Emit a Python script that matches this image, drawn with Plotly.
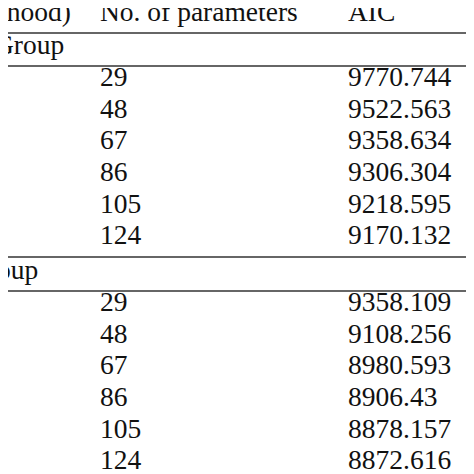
import plotly.graph_objects as go

headers = ["ihood)", "No. of parameters", "AIC"]
groups = ["Group", "oup"]
params = [29, 48, 67, 86, 105, 124]
aic_1 = ["9770.744", "9522.563", "9358.634", "9306.304", "9218.595", "9170.132"]
aic_2 = ["9358.109", "9108.256", "8980.593", "8906.43", "8878.157", "8872.616"]

fnt = dict(family="Liberation Serif", size=27.5, color="#111")
row_h = 31.7
dx = -8  # text offset plotly adds to right-positioned text

xs, ys, ts = [], [], []
# header
for x, t in zip([-1, 100, 348], headers):
    xs.append(x + dx); ys.append(6); ts.append(t)
# group labels
for x, y, t in zip([-6, -3], [39, 264], groups):
    xs.append(x + dx); ys.append(y); ts.append(t)
# rows
for start, aic in [(71, aic_1), (296, aic_2)]:
    for i, (p, a) in enumerate(zip(params, aic)):
        y = start + i * row_h
        xs += [100 + dx, 348 + dx]; ys += [y, y]; ts += [str(p), a]

fig = go.Figure(go.Scatter(x=xs, y=ys, text=ts, mode="text",
                           textposition="middle right", textfont=fnt,
                           cliponaxis=True, hoverinfo="skip"))

for y in [25, 58, 249, 283]:
    fig.add_shape(type="line", x0=0, x1=474, y0=y, y1=y,
                  line=dict(color="#333", width=1.6))

fig.update_xaxes(range=[0, 474], visible=False)
fig.update_yaxes(range=[474, 0], visible=False)
fig.update_layout(width=474, height=474, margin=dict(l=0, r=0, t=0, b=0),
                  plot_bgcolor="white", paper_bgcolor="white", showlegend=False)
fig.write_html("out.html")
